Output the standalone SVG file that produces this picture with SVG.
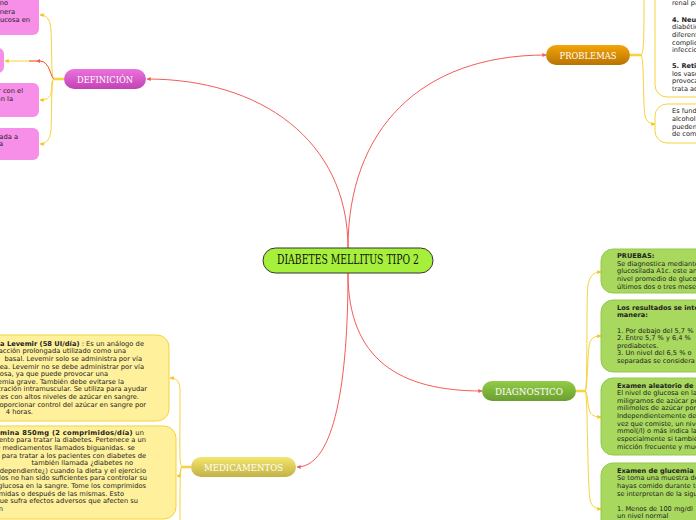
<svg xmlns="http://www.w3.org/2000/svg" width="696" height="520" viewBox="0 0 696 520">
<defs>
<style>
.red{fill:none;stroke:#f45b5b;stroke-width:1}
.yel{fill:none;stroke:#f7d23c;stroke-width:1}
.stub{fill:none;stroke:#f7d23c;stroke-width:2.5}
.t{font-family:"DejaVu Sans",Verdana,sans-serif;font-size:6.6px;fill:#222}
.te{font-family:"DejaVu Sans",Verdana,sans-serif;font-size:6.7px;fill:#222;text-anchor:end}
.tl{font-family:"DejaVu Sans",Verdana,sans-serif;font-size:6.7px;fill:#222}
.b{font-weight:bold}
.lbl{font-family:"DejaVu Serif Condensed","DejaVu Serif","Liberation Serif",serif;font-size:10px;fill:#fff;text-anchor:middle}
.pink{fill:#f78ee8}
.green{fill:#a9d85f;stroke:#92c84a;stroke-width:1}
.ybox{fill:#fff19c;stroke:#f5d33b;stroke-width:1}
.wbox{fill:#fff;stroke:#f5d33b;stroke-width:1}
</style>
<linearGradient id="gDef" x1="0" y1="0" x2="0" y2="1"><stop offset="0" stop-color="#ec72de"/><stop offset="1" stop-color="#c242b4"/></linearGradient>
<linearGradient id="gProb" x1="0" y1="0" x2="0" y2="1"><stop offset="0" stop-color="#f4a60a"/><stop offset="1" stop-color="#b87200"/></linearGradient>
<linearGradient id="gDiag" x1="0" y1="0" x2="0" y2="1"><stop offset="0" stop-color="#92cc48"/><stop offset="1" stop-color="#6a9f2e"/></linearGradient>
<linearGradient id="gMed" x1="0" y1="0" x2="0" y2="1"><stop offset="0" stop-color="#f4e66c"/><stop offset="1" stop-color="#c2b247"/></linearGradient>
<marker id="ar" viewBox="0 0 6 6" refX="5.5" refY="3" markerWidth="4" markerHeight="4" orient="auto"><path d="M0,0 L6,3 L0,6 z" fill="#f45b5b"/></marker>
<marker id="ay" viewBox="0 0 6 6" refX="5.5" refY="3" markerWidth="4" markerHeight="4" orient="auto"><path d="M0,0 L6,3 L0,6 z" fill="#f5c518"/></marker>
</defs>
<rect x="0" y="0" width="696" height="520" fill="#fff"/>

<g id="connectors">
<path class="red" d="M348,248 C348,140 260,79 147,79" marker-end="url(#ar)"/>
<path class="red" d="M348,248 C348,130 420,55 546,55" marker-end="url(#ar)"/>
<path class="red" d="M348,273 C348,360 400,391 482,391" marker-end="url(#ar)"/>
<path class="red" d="M348,273 C348,380 335,467 297,467" marker-end="url(#ar)"/>

<path class="stub" d="M64,79 L54,79"/>
<path class="yel" d="M54,79 C51,79 52,50 51,30 C50,18 46,15 40,15" marker-end="url(#ay)"/>
<path class="yel" d="M54,79 C51,79 50,61 40,61 L5,61" marker-end="url(#ay)"/>
<path class="red" d="M54,79 C51,79 50,61 40,61 L29,61"/>
<path d="M36,61 L40,59 L40,63 z" fill="#f45b5b"/>
<path class="yel" d="M54,79 C51,79 52,88 51,93 C50,98 46,100 40,100" marker-end="url(#ay)"/>
<path class="yel" d="M54,79 C51,79 52,110 51,130 C50,140 46,144 40,144" marker-end="url(#ay)"/>

<path class="stub" d="M630,55 L641,55"/>
<path class="yel" d="M641,55 C644,55 644,30 644,0"/>
<path class="yel" d="M641,55 C644,55 643,105 645,116 C647,122 650,124 655,124" marker-end="url(#ay)"/>

<path class="stub" d="M576,391 L585,391"/>
<path class="yel" d="M585,391 C588,391 586,300 588,285 C590,275 594,272 601,272" marker-end="url(#ay)"/>
<path class="yel" d="M585,391 C588,391 587,350 590,342 C592,337 596,336 601,336" marker-end="url(#ay)"/>
<path class="yel" d="M585,391 C588,391 587,405 590,412 C592,416 596,417 601,417" marker-end="url(#ay)"/>
<path class="yel" d="M585,391 C588,391 587,480 590,500 C592,507 596,509 601,509" marker-end="url(#ay)"/>

<path class="stub" d="M191,467 L182,467"/>
<path class="yel" d="M182,467 C179,467 180,440 180,410 L180,390 C180,381 176,378 170,378" marker-end="url(#ay)"/>
<path class="yel" d="M182,467 C180,467 181,476 177,476" marker-end="url(#ay)"/>
<path class="yel" d="M182,467 C180,467 180,480 180,520"/>
</g>

<g id="central">
<rect x="263" y="248" width="170" height="25" rx="12.5" fill="#a6ef3a" stroke="#333" stroke-width="1"/>
<text x="348" y="264" font-family="'DejaVu Serif Condensed','DejaVu Serif','Liberation Serif',serif" font-size="12" fill="#111" text-anchor="middle" textLength="142" lengthAdjust="spacingAndGlyphs">DIABETES MELLITUS TIPO 2</text>
</g>

<g id="definicion">
<rect x="64" y="69" width="82" height="20" rx="10" fill="url(#gDef)"/>
<text class="lbl" x="105" y="83" textLength="56" lengthAdjust="spacingAndGlyphs">DEFINICIÓN</text>
</g>
<g id="def-1">
<rect class="pink" x="-200" y="-60" width="239" height="95" rx="6"/>
<text class="te" x="8" y="4.5">no</text>
<text class="te" x="15" y="14">nera</text>
<text class="te" x="30" y="21.7">glucosa en</text>
</g>
<g id="def-2">
<rect class="pink" x="-200" y="48" width="204" height="25" rx="6"/>
</g>
<g id="def-3">
<rect class="pink" x="-200" y="83" width="239" height="34" rx="6"/>
<text class="te" x="23" y="93">r con el</text>
<text class="te" x="13" y="100.7">an la</text>
</g>
<g id="def-4">
<rect class="pink" x="-200" y="128" width="239" height="32" rx="6"/>
<text class="te" x="18" y="138.5">jada a</text>
<text class="te" x="3" y="146.2">a</text>
</g>

<g id="problemas">
<rect x="546" y="45" width="84" height="20" rx="10" fill="url(#gProb)"/>
<text class="lbl" x="588" y="59" textLength="57" lengthAdjust="spacingAndGlyphs">PROBLEMAS</text>
</g>
<g id="prob-1">
<rect class="wbox" x="655" y="-200" width="100" height="297" rx="12"/>
<text class="t" x="672" y="5">renal pa</text>
<text class="t b" x="672" y="21.6">4. Neur</text>
<text class="t" x="672" y="29.2">diabétic</text>
<text class="t" x="672" y="36.9">diferent</text>
<text class="t" x="672" y="44.5">complic</text>
<text class="t" x="672" y="52.2">infeccio</text>
<text class="t b" x="672" y="68">5. Retir</text>
<text class="t" x="672" y="75.6">los vasc</text>
<text class="t" x="672" y="83.3">provoca</text>
<text class="t" x="672" y="90.9">trata ad</text>
</g>
<g id="prob-2">
<rect class="wbox" x="655" y="104" width="100" height="39" rx="12"/>
<text class="t" x="672" y="113.3">Es fund</text>
<text class="t" x="672" y="121">alcohol</text>
<text class="t" x="672" y="128.6">pueden</text>
<text class="t" x="672" y="136.3">de com</text>
</g>

<g id="diagnostico">
<rect x="482" y="381" width="94" height="20" rx="10" fill="url(#gDiag)"/>
<text class="lbl" x="529" y="395" textLength="68" lengthAdjust="spacingAndGlyphs">DIAGNOSTICO</text>
</g>
<g id="diag-1">
<rect class="green" x="601" y="249" width="150" height="44" rx="12"/>
<text class="t b" x="617" y="258">PRUEBAS:</text>
<text class="t" x="617" y="265.7">Se diagnostica mediante</text>
<text class="t" x="617" y="273.3">glucosilada A1c. este an</text>
<text class="t" x="617" y="281">nivel promedio de gluco</text>
<text class="t" x="617" y="288.6">últimos dos o tres mese</text>
</g>
<g id="diag-2">
<rect class="green" x="601" y="300" width="150" height="72" rx="12"/>
<text class="t b" x="617" y="309.5">Los resultados se inte</text>
<text class="t b" x="617" y="317.2">manera:</text>
<text class="t" x="617" y="332.5">1. Por debajo del 5,7 %</text>
<text class="t" x="617" y="340.1">2. Entre 5,7 % y 6,4 %</text>
<text class="t" x="617" y="347.8">prediabetes.</text>
<text class="t" x="617" y="355.4">3. Un nivel del 6,5 % o</text>
<text class="t" x="617" y="363">separadas se considera</text>
</g>
<g id="diag-3">
<rect class="green" x="601" y="378" width="150" height="77" rx="12"/>
<text class="t b" x="617" y="387.5">Examen aleatorio de g</text>
<text class="t" x="617" y="395.1">El nivel de glucosa en la</text>
<text class="t" x="617" y="402.8">miligramos de azúcar po</text>
<text class="t" x="617" y="410.4">milimoles de azúcar por</text>
<text class="t" x="617" y="418.1">Independientemente de</text>
<text class="t" x="617" y="425.7">vez que comiste, un nive</text>
<text class="t" x="617" y="433.4">mmol(/l) o más indica la</text>
<text class="t" x="617" y="441">especialmente si tambié</text>
<text class="t" x="617" y="448.7">micción frecuente y muc</text>
</g>
<g id="diag-4">
<rect class="green" x="601" y="463" width="150" height="120" rx="12"/>
<text class="t b" x="617" y="472.5">Examen de glucemia e</text>
<text class="t" x="617" y="480.2">Se toma una muestra de</text>
<text class="t" x="617" y="487.8">hayas comido durante to</text>
<text class="t" x="617" y="495.5">se interpretan de la sigu</text>
<text class="t" x="617" y="510.8">1. Menos de 100 mg/dl</text>
<text class="t" x="617" y="518.4">un nivel normal</text>
</g>

<g id="medicamentos">
<rect x="191" y="457" width="105" height="20" rx="10" fill="url(#gMed)"/>
<text class="lbl" x="243.5" y="471" textLength="79" lengthAdjust="spacingAndGlyphs">MEDICAMENTOS</text>
</g>
<g id="med-1">
<rect class="ybox" x="-200" y="335" width="369" height="86" rx="12"/>
<text class="tl" x="0" y="345.5" textLength="144"><tspan class="b">a Levemir (58 UI/día)</tspan> : Es un análogo de</text>
<text class="te" x="126" y="353.2">de acción prolongada utilizado como una</text>
<text class="te" x="142" y="360.8">basal. Levemir solo se administra por vía</text>
<text class="te" x="144" y="368.5">nea. Levemir no se debe administrar por vía</text>
<text class="te" x="108" y="376.1">osa, ya que puede provocar una</text>
<text class="te" x="124" y="383.8">cemia grave. También debe evitarse la</text>
<text class="te" x="147" y="391.4">tración intramuscular.  Se utiliza para ayudar</text>
<text class="te" x="139" y="399.1">tes con altos niveles de azúcar en sangre.</text>
<text class="te" x="146" y="406.7">roporcionar control del azúcar en sangre por</text>
<text class="te" x="33" y="414.4">4 horas.</text>
</g>
<g id="med-2">
<rect class="ybox" x="-200" y="426" width="376" height="93" rx="12"/>
<text class="tl" x="0" y="434.5" textLength="144"><tspan class="b">mina 850mg (2 comprimidos/día)</tspan>  un</text>
<text class="te" x="146" y="442.2">mento para tratar la diabetes. Pertenece a un</text>
<text class="te" x="135" y="449.8">e medicamentos llamados biguanidas. se</text>
<text class="te" x="146" y="457.5">para tratar a los pacientes con diabetes de</text>
<text class="te" x="133" y="465.1">también llamada ¿diabetes no</text>
<text class="te" x="146" y="472.8">dependiente¿) cuando la dieta y el ejercicio</text>
<text class="te" x="147" y="480.4">olos no han sido suficientes para controlar su</text>
<text class="te" x="146" y="488.1">glucosa en la sangre. Tome los comprimidos</text>
<text class="te" x="124" y="495.7">comidas o después de las mismas. Esto</text>
<text class="te" x="138" y="503.4">que sufra efectos adversos que afecten su</text>
<text class="te" x="3" y="511">n</text>
</g>
</svg>
